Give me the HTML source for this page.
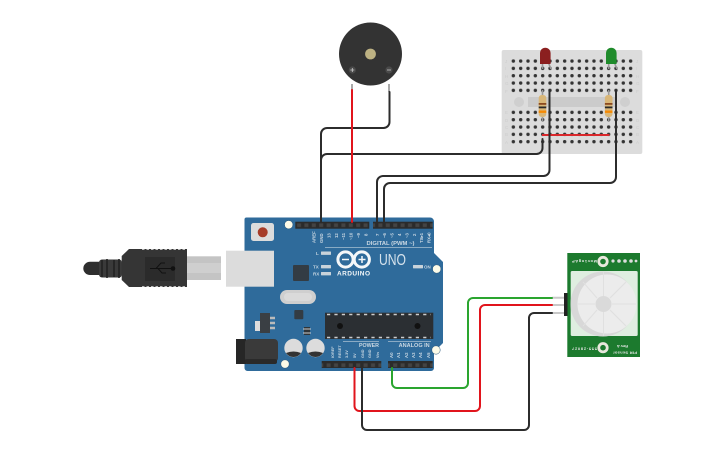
<!DOCTYPE html>
<html><head><meta charset="utf-8">
<style>html,body{margin:0;padding:0;background:#fff;width:725px;height:453px;overflow:hidden}svg{display:block}text{font-family:"Liberation Sans",sans-serif}</style>
</head><body>
<svg width="725" height="453" viewBox="0 0 725 453" xmlns="http://www.w3.org/2000/svg">
<defs>
<pattern id="h" x="295.3" y="221.7" width="7.4" height="7" patternUnits="userSpaceOnUse"><rect width="7.4" height="7" fill="#2b2b2b"/><rect x="1.7" y="1.7" width="4" height="3.6" fill="#444"/></pattern>
<pattern id="bh" x="509.7" y="57.4" width="7.33" height="7.33" patternUnits="userSpaceOnUse"><circle cx="3.65" cy="3.65" r="1.7" fill="#333"/></pattern>
</defs>

<!-- Breadboard -->
<rect x="501.7" y="50" width="140.6" height="104" rx="2" fill="#dcdcdc"/>
<rect x="509.7" y="57.4" width="124.7" height="36.7" fill="url(#bh)"/>
<rect x="509.7" y="108.6" width="124.7" height="36.7" fill="url(#bh)"/>
<rect x="528" y="97" width="87" height="10" fill="#cbcbcb"/>
<circle cx="519" cy="102" r="5" fill="#cfcfcf"/><circle cx="625" cy="102" r="5" fill="#cfcfcf"/>
<g fill="#cdcdcd" font-size="4.500">
<text x="505" y="63">J</text><text x="505" y="70">I</text><text x="505" y="78">H</text><text x="505" y="85">G</text><text x="505" y="93">F</text>
<text x="505" y="114">E</text><text x="505" y="122">D</text><text x="505" y="129">C</text><text x="505" y="136">B</text><text x="505" y="144">A</text>
<text x="636" y="63">J</text><text x="636" y="70">I</text><text x="636" y="78">H</text><text x="636" y="85">G</text><text x="636" y="93">F</text>
<text x="636" y="114">E</text><text x="636" y="122">D</text><text x="636" y="129">C</text><text x="636" y="136">B</text><text x="636" y="144">A</text>
</g>
<!-- Leds -->
<path d="M542.5 63V69M548.500 63L551 69" stroke="#999" stroke-width="1.600" fill="none"/>
<path d="M608.7 63V69M614.500 63L617 69" stroke="#999" stroke-width="1.600" fill="none"/>
<path d="M540 64V53a5.3 5.3 0 0 1 10.6 0V64z" fill="#8b1f1f"/>
<path d="M606 64V53a5.3 5.3 0 0 1 10.6 0V64z" fill="#1f8b2b"/>
<!-- Resistors -->
<g>
<path d="M542.5 90V121" stroke="#999" stroke-width="1.6"/>
<rect x="538.700" y="95" width="7.600" height="22" rx="3" fill="#d9b779"/>
<rect x="538.700" y="103" width="7.600" height="1.800" fill="#8a4a20"/><rect x="538.700" y="106.500" width="7.600" height="1.800" fill="#2a2a2a"/><rect x="538.700" y="110.500" width="7.600" height="2.400" fill="#f58a05"/>
</g>
<g>
<path d="M608.7 90V121" stroke="#999" stroke-width="1.6"/>
<rect x="604.900" y="95" width="7.600" height="22" rx="3" fill="#d9b779"/>
<rect x="604.900" y="103" width="7.600" height="1.800" fill="#8a4a20"/><rect x="604.900" y="106.500" width="7.600" height="1.800" fill="#2a2a2a"/><rect x="604.900" y="110.500" width="7.600" height="2.400" fill="#f58a05"/>
</g>
<path d="M542 135H609.5" stroke="#d9272b" stroke-width="2"/>

<!-- Buzzer -->
<path d="M352 84V92M389 84V92" stroke="#aaa" stroke-width="2"/>
<circle cx="370.5" cy="54" r="31.5" fill="#333"/>
<circle cx="370.5" cy="54" r="5.4" fill="#bdb283"/>
<circle cx="352.3" cy="70" r="3.6" fill="#4a4a4a"/><circle cx="389" cy="70" r="3.6" fill="#4a4a4a"/>
<path d="M350.3 70h4M352.3 68v4M387 70h4" stroke="#ccc" stroke-width="0.8"/>

<!-- Arduino -->
<path d="M246.5 217.5H430a4 4 0 0 1 4 4V253L443 262V343L434 352V368a3 3 0 0 1-3 3H247.5a3 3 0 0 1-3-3V219.5a2 2 0 0 1 2-2z" fill="#2f6b9b"/>
<rect x="295.3" y="221.7" width="74" height="7" fill="url(#h)"/>
<rect x="373" y="221.7" width="59.7" height="7" fill="url(#h)"/>
<rect x="321.7" y="361" width="59.6" height="7" fill="url(#h)"/>
<rect x="388" y="361" width="44.7" height="7" fill="url(#h)"/>
<g fill="#fdfbe8" stroke="#1e4f78" stroke-width="0.5">
<circle cx="288.7" cy="224.7" r="4.2"/><circle cx="285" cy="364" r="4.2"/><circle cx="436.7" cy="269" r="4.2"/><circle cx="436" cy="350" r="4.2"/>
</g>
<!-- Reset -->
<rect x="251" y="223" width="23" height="18" rx="2.500" fill="#dcdcdc"/>
<circle cx="262.7" cy="232.3" r="5" fill="#a63c28"/>
<!-- Chips -->
<rect x="293" y="265" width="16" height="16" rx="1" fill="#333c44"/>
<rect x="294.3" y="310" width="9" height="9.3" rx="1" fill="#333c44"/>
<rect x="280" y="290" width="36" height="14" rx="7" fill="#cfcfcf"/>
<rect x="284" y="293" width="28" height="8" rx="4" fill="#dadada"/>
<rect x="325" y="312.7" width="108.3" height="26.3" fill="#2b2f33"/>
<path d="M327 314.5H431M327 337.5H431" stroke="#ccc" stroke-width="1.4" stroke-dasharray="3.2 4.2"/>
<circle cx="340" cy="326" r="3" fill="#111"/><circle cx="417.5" cy="326" r="3" fill="#111"/>
<rect x="255" y="321" width="5" height="10" fill="#ddd"/>
<rect x="260" y="313" width="10" height="20" fill="#3a3f44"/>
<path d="M270 318h5M270 323h5M270 328h5" stroke="#bbb" stroke-width="2.5"/>
<rect x="304" y="327" width="6" height="8" fill="#2f3438"/>
<path d="M303 329h8M303 333h8" stroke="#ccc" stroke-width="0.9"/>
<!-- Caps -->
<g>
<circle cx="293.5" cy="348" r="9.2" fill="#dcdcdc"/>
<path d="M286 353a9 9 0 0 0 15 0q-7.500-3-15 0z" fill="#333"/>
<circle cx="315.5" cy="348" r="9.2" fill="#dcdcdc"/>
<path d="M308 353a9 9 0 0 0 15 0q-7.500-3-15 0z" fill="#333"/>
</g>
<!-- Jack -->
<rect x="236" y="339" width="10" height="25" fill="#262626"/>
<rect x="245" y="339" width="33" height="23" rx="4" fill="#3a3a3a"/>
<rect x="245" y="359" width="32" height="5" rx="2" fill="#2a2a2a"/>
<!-- Leds on board -->
<rect x="321" y="251.500" width="10" height="3.400" rx="0.5" fill="#c9d3da"/>
<rect x="321" y="265" width="10" height="3.400" rx="0.5" fill="#c9d3da"/>
<rect x="321" y="272" width="10" height="3.400" rx="0.5" fill="#c9d3da"/>
<rect x="413" y="265" width="10" height="3.400" rx="0.5" fill="#c9d3da"/>
<g fill="#c9d7e2" font-size="4.500" font-weight="bold">
<text x="316" y="254.800">L</text><text x="313" y="268.500">TX</text><text x="313" y="275.500">RX</text><text x="424" y="268.500">ON</text>
</g>
<!-- Logo -->
<g fill="none" stroke="#f4f7f9" stroke-width="3">
<circle cx="345.500" cy="259.500" r="7.600"/><circle cx="361.800" cy="259.500" r="7.600"/>
</g>
<path d="M342 259.500h7M358.500 259.500h7M362 256v7" stroke="#f4f7f9" stroke-width="1.500"/>
<text x="337" y="275.500" fill="#f4f7f9" font-size="6.500" font-weight="bold" textLength="33">ARDUINO</text>
<text x="379" y="265" fill="#d5e2ec" font-size="16" textLength="27" lengthAdjust="spacingAndGlyphs">UNO</text>
<!-- labels -->
<g fill="#c9d7e2" font-weight="bold">
<text x="366.500" y="245" font-size="5.500" textLength="48" lengthAdjust="spacingAndGlyphs">DIGITAL (PWM ~)</text>
<text x="359" y="347" font-size="5.500" textLength="20" lengthAdjust="spacingAndGlyphs">POWER</text>
<text x="398.700" y="347" font-size="5.500" textLength="31" lengthAdjust="spacingAndGlyphs">ANALOG IN</text>
</g>
<path d="M325 247.500H432" stroke="#a9c0d2" stroke-width="0.700"/>
<path d="M343 341.500H379M388 341.500H431" stroke="#a9c0d2" stroke-width="0.700"/>
<g fill="#c9d7e2" font-size="4.300" font-weight="bold">
<text transform="translate(315.500,243) rotate(-90)">AREF</text>
<text transform="translate(323,243) rotate(-90)">GND</text>
<text transform="translate(330.500,238) rotate(-90)">13</text>
<text transform="translate(338,238) rotate(-90)">12</text>
<text transform="translate(345,240) rotate(-90)">~11</text>
<text transform="translate(352.500,240) rotate(-90)">~10</text>
<text transform="translate(360,238) rotate(-90)">~9</text>
<text transform="translate(367.500,236) rotate(-90)">8</text>
<text transform="translate(379,236) rotate(-90)">7</text>
<text transform="translate(386,238) rotate(-90)">~6</text>
<text transform="translate(393.500,238) rotate(-90)">~5</text>
<text transform="translate(401,236) rotate(-90)">4</text>
<text transform="translate(408.500,238) rotate(-90)">~3</text>
<text transform="translate(416,236) rotate(-90)">2</text>
<text transform="translate(423,243) rotate(-90)">TX▸1</text>
<text transform="translate(430.500,243) rotate(-90)">RX◂0</text>
<g font-size="3.800">
<text transform="translate(334,358) rotate(-90)">IOREF</text>
<text transform="translate(341,358) rotate(-90)">RESET</text>
<text transform="translate(348,358) rotate(-90)">3.3V</text>
<text transform="translate(356,358) rotate(-90)">5V</text>
<text transform="translate(364,358) rotate(-90)">GND</text>
<text transform="translate(371,358) rotate(-90)">GND</text>
<text transform="translate(379,358) rotate(-90)">Vin</text>
</g>
<text transform="translate(393,358) rotate(-90)">A0</text>
<text transform="translate(400,358) rotate(-90)">A1</text>
<text transform="translate(408,358) rotate(-90)">A2</text>
<text transform="translate(415,358) rotate(-90)">A3</text>
<text transform="translate(422,358) rotate(-90)">A4</text>
<text transform="translate(430,358) rotate(-90)">A5</text>
</g>

<!-- USB -->
<rect x="226" y="250.700" width="48" height="36" fill="#dcdcdc"/>
<rect x="187" y="256.300" width="34" height="23.700" fill="#c4c4c4"/>
<rect x="187" y="263" width="34" height="10" fill="#cfcfcf"/>
<path d="M83.300 268.500a6.700 6.700 0 0 1 6.700-6.700H100V275H90a6.700 6.700 0 0 1-6.700-6.500z" fill="#2e2e2e"/>
<rect x="99" y="259.500" width="23" height="18" rx="3" fill="#3a3a3a"/>
<path d="M102 260v17M107 259v19M114 260v17M119 259v19" stroke="#1f1f1f" stroke-width="1.500"/>
<path d="M129 249H187V287H129L121.700 280V256z" fill="#353535"/>
<path d="M142 249.500H186M142 286.500H186" stroke="#bbb" stroke-width="1" stroke-dasharray="2.500 2"/>
<rect x="145" y="257" width="30" height="24" fill="#2b2b2b"/>
<path d="M150 268.500H172M156 268.500L161 263H165M158 268.500L162 273H166" stroke="#111" stroke-width="1" fill="none"/>
<circle cx="173" cy="268.500" r="2.300" fill="#111"/>

<!-- PIR -->
<rect x="567.300" y="253" width="72.700" height="104" fill="#1c7a2e"/>
<circle cx="603" cy="261.500" r="5.600" fill="#e8e8dc"/><circle cx="603" cy="261.500" r="2.800" fill="#1c7a2e"/>
<circle cx="603" cy="347.700" r="5.600" fill="#e8e8dc"/><circle cx="603" cy="347.700" r="2.800" fill="#1c7a2e"/>
<rect x="570.700" y="271" width="67" height="65" rx="1.500" fill="#dfeee0"/>
<circle cx="603" cy="304" r="32.500" fill="#d8d8d8"/>
<circle cx="607" cy="304" r="29.500" fill="#ececec"/>
<circle cx="603.500" cy="304" r="8" fill="#dadada"/>
<path d="M603.500 272V296M603.500 312V336M578 304H595M612 304H636M583 282L597 298M610 310L626 326M626 282L610 298M597 310L583 326" stroke="#e0e0e0" stroke-width="1"/>
<g fill="#e8e8e8" font-size="4" font-weight="bold">
<text transform="translate(597,260) rotate(180)" textLength="25">Mov1ngAP</text>
<text transform="translate(597,347.500) rotate(180)" textLength="25">555-28027</text>
<text transform="translate(637,351.500) rotate(180)" textLength="24">PIR Sensor</text>
<text transform="translate(628,345) rotate(180)">Rev A</text>
</g>
<g fill="#ddd"><circle cx="613" cy="261" r="1.600"/><circle cx="619" cy="261" r="1.800"/><circle cx="625" cy="261" r="1.800"/><circle cx="631" cy="261" r="1.800"/><circle cx="636" cy="261" r="1.400"/></g>
<rect x="564" y="293" width="3.500" height="23" fill="#222"/>
<path d="M552 297.800H564M552 305H564M552 313H564" stroke="#c8c8c8" stroke-width="2"/>

<!-- Wires -->
<g fill="none" stroke-width="2" stroke-linecap="round">
<path d="M389.500 92V122a6 6 0 0 1-6 6H327a6 6 0 0 0-6 6V222" stroke="#2c2c2c"/>
<path d="M542.500 139V148a6 6 0 0 1-6 6H327a6 6 0 0 0-6 6V222" stroke="#2c2c2c"/>
<path d="M549.500 90V170a6 6 0 0 1-6 6H383a6 6 0 0 0-6 6V222" stroke="#2c2c2c"/>
<path d="M616 90V177a6 6 0 0 1-6 6H390a6 6 0 0 0-6 6V222" stroke="#2c2c2c"/>
<path d="M352 90V222" stroke="#e1141c"/>
<path d="M392 368V383a5 5 0 0 0 5 5H463a5 5 0 0 0 5-5V303a5 5 0 0 1 5-5H552" stroke="#2aa52f"/>
<path d="M354.500 368V406a5 5 0 0 0 5 5H475a5 5 0 0 0 5-5V310a5 5 0 0 1 5-5H552" stroke="#e1141c"/>
<path d="M362 368V425a5 5 0 0 0 5 5H524a5 5 0 0 0 5-5V318a5 5 0 0 1 5-5H552" stroke="#2c2c2c"/>
</g>
</svg>
</body></html>
